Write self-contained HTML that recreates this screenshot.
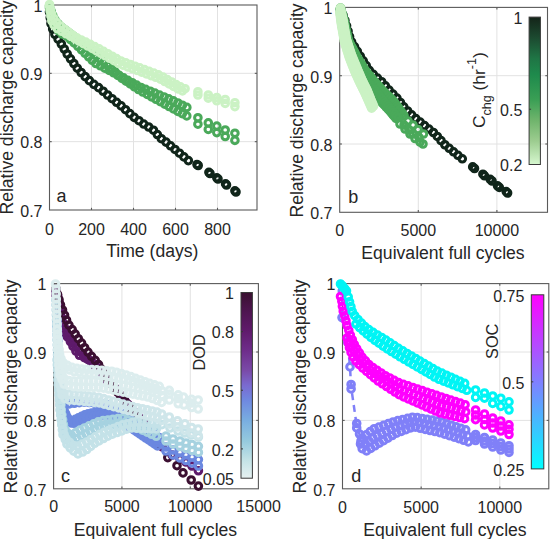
<!DOCTYPE html>
<html><head><meta charset="utf-8"><style>
html,body{margin:0;padding:0;background:#fff;}
svg{display:block;}
text{font-family:"Liberation Sans", sans-serif;}
</style></head><body>
<svg width="550" height="539" viewBox="0 0 550 539">
<rect width="550" height="539" fill="#fff"/>
<g stroke="#e2e2e2" stroke-width="1"><line x1="91.5" y1="5" x2="91.5" y2="210"/><line x1="133.5" y1="5" x2="133.5" y2="210"/><line x1="175.5" y1="5" x2="175.5" y2="210"/><line x1="217.5" y1="5" x2="217.5" y2="210"/><line x1="49.5" y1="73.33" x2="257" y2="73.33"/><line x1="49.5" y1="141.67" x2="257" y2="141.67"/></g>
<g stroke="#5a5a5a" stroke-width="1.1" fill="none"><rect x="49.5" y="5" width="207.5" height="205"/><line x1="91.5" y1="210" x2="91.5" y2="207.8"/><line x1="91.5" y1="5" x2="91.5" y2="7.2"/><line x1="133.5" y1="210" x2="133.5" y2="207.8"/><line x1="133.5" y1="5" x2="133.5" y2="7.2"/><line x1="175.5" y1="210" x2="175.5" y2="207.8"/><line x1="175.5" y1="5" x2="175.5" y2="7.2"/><line x1="217.5" y1="210" x2="217.5" y2="207.8"/><line x1="217.5" y1="5" x2="217.5" y2="7.2"/><line x1="49.5" y1="73.33" x2="51.7" y2="73.33"/><line x1="257" y1="73.33" x2="254.8" y2="73.33"/><line x1="49.5" y1="141.67" x2="51.7" y2="141.67"/><line x1="257" y1="141.67" x2="254.8" y2="141.67"/></g>
<g fill="none" stroke="#10251a" stroke-width="3"><circle cx="49.5" cy="12" r="3.3"/><circle cx="50.22" cy="17.76" r="3.3"/><circle cx="50.94" cy="23.51" r="3.3"/><circle cx="52.68" cy="29.03" r="3.3"/><circle cx="54.9" cy="34.35" r="3.3"/><circle cx="58.12" cy="39.17" r="3.3"/><circle cx="61.33" cy="44" r="3.3"/><circle cx="64.25" cy="49.01" r="3.3"/><circle cx="67.19" cy="54" r="3.3"/><circle cx="70.48" cy="58.78" r="3.3"/><circle cx="73.84" cy="63.51" r="3.3"/><circle cx="77.27" cy="68.19" r="3.3"/><circle cx="81.16" cy="72.49" r="3.3"/><circle cx="85.17" cy="76.67" r="3.3"/><circle cx="89.38" cy="80.65" r="3.3"/><circle cx="93.84" cy="84.37" r="3.3"/><circle cx="98.61" cy="87.65" r="3.3"/><circle cx="103.15" cy="91.26" r="3.3"/><circle cx="107.58" cy="95.01" r="3.3"/><circle cx="112.04" cy="98.72" r="3.3"/><circle cx="116.59" cy="102.3" r="3.3"/><circle cx="121.15" cy="105.89" r="3.3"/><circle cx="125.52" cy="109.7" r="3.3"/><circle cx="129.83" cy="113.58" r="3.3"/><circle cx="134.21" cy="117.37" r="3.3"/><circle cx="138.96" cy="120.71" r="3.3"/><circle cx="143.7" cy="124.04" r="3.3"/><circle cx="148.68" cy="127.01" r="3.3"/><circle cx="153.44" cy="130.23" r="3.3"/><circle cx="157.35" cy="134.52" r="3.3"/><circle cx="161.34" cy="138.72" r="3.3"/><circle cx="166.04" cy="142.12" r="3.3"/><circle cx="170.53" cy="145.78" r="3.3"/><circle cx="174.99" cy="149.48" r="3.3"/><circle cx="179.46" cy="153.19" r="3.3"/><circle cx="183.91" cy="156.9" r="3.3"/><circle cx="188.36" cy="160.62" r="3.3"/><circle cx="197" cy="164.5" r="3.3"/><circle cx="208.9" cy="172.3" r="3.3"/><circle cx="216.8" cy="177.8" r="3.3"/><circle cx="225.6" cy="183.9" r="3.3"/><circle cx="234.9" cy="190.8" r="3.3"/><circle cx="198.2" cy="165.5" r="3.3"/><circle cx="210" cy="173.5" r="3.3"/><circle cx="218" cy="179" r="3.3"/><circle cx="226.5" cy="185" r="3.3"/><circle cx="236" cy="192" r="3.3"/></g>
<g fill="none" stroke="#4aa95a" stroke-width="3"><circle cx="49.5" cy="6" r="3.3"/><circle cx="50.99" cy="10.77" r="3.3"/><circle cx="52.72" cy="15.45" r="3.3"/><circle cx="54.96" cy="19.92" r="3.3"/><circle cx="58.14" cy="23.77" r="3.3"/><circle cx="61.66" cy="27.28" r="3.3"/><circle cx="65.63" cy="30.33" r="3.3"/><circle cx="69.61" cy="33.36" r="3.3"/><circle cx="73.59" cy="36.38" r="3.3"/><circle cx="77.57" cy="39.41" r="3.3"/><circle cx="81.55" cy="42.43" r="3.3"/><circle cx="85.31" cy="45.72" r="3.3"/><circle cx="89.02" cy="49.07" r="3.3"/><circle cx="92.73" cy="52.43" r="3.3"/><circle cx="96.44" cy="55.78" r="3.3"/><circle cx="100.15" cy="59.13" r="3.3"/><circle cx="103.96" cy="62.37" r="3.3"/><circle cx="107.77" cy="65.61" r="3.3"/><circle cx="111.58" cy="68.84" r="3.3"/><circle cx="115.39" cy="72.08" r="3.3"/><circle cx="119.2" cy="75.32" r="3.3"/><circle cx="123.46" cy="77.9" r="3.3"/><circle cx="127.84" cy="80.31" r="3.3"/><circle cx="132.22" cy="82.72" r="3.3"/><circle cx="136.6" cy="85.13" r="3.3"/><circle cx="141.04" cy="87.43" r="3.3"/><circle cx="145.66" cy="89.34" r="3.3"/><circle cx="150.28" cy="91.26" r="3.3"/><circle cx="154.9" cy="93.17" r="3.3"/><circle cx="159.52" cy="95.09" r="3.3"/><circle cx="164.14" cy="97" r="3.3"/><circle cx="168.76" cy="98.91" r="3.3"/><circle cx="173.37" cy="100.83" r="3.3"/><circle cx="177.9" cy="102.95" r="3.3"/><circle cx="182.37" cy="105.19" r="3.3"/><circle cx="186.84" cy="107.42" r="3.3"/><circle cx="197.9" cy="117.7" r="3.3"/><circle cx="208.3" cy="122.9" r="3.3"/><circle cx="216.8" cy="126.1" r="3.3"/><circle cx="225.2" cy="130" r="3.3"/><circle cx="234.9" cy="133.2" r="3.3"/><circle cx="49.5" cy="8" r="3.3"/><circle cx="50.52" cy="12.89" r="3.3"/><circle cx="51.54" cy="17.79" r="3.3"/><circle cx="53.39" cy="22.36" r="3.3"/><circle cx="55.93" cy="26.67" r="3.3"/><circle cx="58.59" cy="30.9" r="3.3"/><circle cx="62.24" cy="34.04" r="3.3"/><circle cx="66.73" cy="36.21" r="3.3"/><circle cx="70.43" cy="39.57" r="3.3"/><circle cx="74.13" cy="42.94" r="3.3"/><circle cx="77.83" cy="46.3" r="3.3"/><circle cx="81.43" cy="49.77" r="3.3"/><circle cx="85.01" cy="53.26" r="3.3"/><circle cx="88.59" cy="56.75" r="3.3"/><circle cx="92.17" cy="60.24" r="3.3"/><circle cx="95.93" cy="63.49" r="3.3"/><circle cx="100.36" cy="65.81" r="3.3"/><circle cx="104.78" cy="68.14" r="3.3"/><circle cx="109.21" cy="70.46" r="3.3"/><circle cx="113.64" cy="72.78" r="3.3"/><circle cx="117.83" cy="75.48" r="3.3"/><circle cx="121.93" cy="78.35" r="3.3"/><circle cx="126.04" cy="81.19" r="3.3"/><circle cx="130.2" cy="83.97" r="3.3"/><circle cx="134.36" cy="86.74" r="3.3"/><circle cx="138.52" cy="89.52" r="3.3"/><circle cx="142.83" cy="92.05" r="3.3"/><circle cx="147.21" cy="94.46" r="3.3"/><circle cx="151.59" cy="96.87" r="3.3"/><circle cx="155.97" cy="99.28" r="3.3"/><circle cx="160.35" cy="101.69" r="3.3"/><circle cx="164.73" cy="104.1" r="3.3"/><circle cx="169.11" cy="106.51" r="3.3"/><circle cx="173.49" cy="108.92" r="3.3"/><circle cx="177.87" cy="111.33" r="3.3"/><circle cx="182.3" cy="113.65" r="3.3"/><circle cx="186.77" cy="115.89" r="3.3"/><circle cx="197.9" cy="124.2" r="3.3"/><circle cx="208.3" cy="129.4" r="3.3"/><circle cx="216.8" cy="132.6" r="3.3"/><circle cx="225.2" cy="136.5" r="3.3"/><circle cx="234.9" cy="140.4" r="3.3"/></g>
<g fill="none" stroke="#cbf2c4" stroke-width="3"><circle cx="49.5" cy="4.5" r="3.3"/><circle cx="50.39" cy="9.42" r="3.3"/><circle cx="51.77" cy="14.22" r="3.3"/><circle cx="53.87" cy="18.75" r="3.3"/><circle cx="56.83" cy="22.77" r="3.3"/><circle cx="60.51" cy="26.16" r="3.3"/><circle cx="64.44" cy="29.23" r="3.3"/><circle cx="68.51" cy="32.13" r="3.3"/><circle cx="72.59" cy="35.02" r="3.3"/><circle cx="76.76" cy="37.76" r="3.3"/><circle cx="81.26" cy="39.93" r="3.3"/><circle cx="85.77" cy="42.11" r="3.3"/><circle cx="90.25" cy="44.32" r="3.3"/><circle cx="94.72" cy="46.56" r="3.3"/><circle cx="99.16" cy="48.85" r="3.3"/><circle cx="103.52" cy="51.31" r="3.3"/><circle cx="107.87" cy="53.76" r="3.3"/><circle cx="112.23" cy="56.22" r="3.3"/><circle cx="116.58" cy="58.67" r="3.3"/><circle cx="121.01" cy="60.97" r="3.3"/><circle cx="125.7" cy="62.71" r="3.3"/><circle cx="130.39" cy="64.44" r="3.3"/><circle cx="135.08" cy="66.18" r="3.3"/><circle cx="139.77" cy="67.91" r="3.3"/><circle cx="144.46" cy="69.65" r="3.3"/><circle cx="149.15" cy="71.38" r="3.3"/><circle cx="153.84" cy="73.12" r="3.3"/><circle cx="158.53" cy="74.85" r="3.3"/><circle cx="162.99" cy="77.09" r="3.3"/><circle cx="167.34" cy="79.55" r="3.3"/><circle cx="171.69" cy="82.01" r="3.3"/><circle cx="176.04" cy="84.47" r="3.3"/><circle cx="180.42" cy="86.87" r="3.3"/><circle cx="185.07" cy="88.73" r="3.3"/><circle cx="197.9" cy="91.7" r="3.3"/><circle cx="208.3" cy="95" r="3.3"/><circle cx="216.8" cy="97.5" r="3.3"/><circle cx="225.2" cy="99.5" r="3.3"/><circle cx="234.9" cy="102.7" r="3.3"/><circle cx="49.5" cy="6" r="3.3"/><circle cx="50.12" cy="10.96" r="3.3"/><circle cx="50.86" cy="15.9" r="3.3"/><circle cx="51.78" cy="20.82" r="3.3"/><circle cx="54.11" cy="25.16" r="3.3"/><circle cx="57.38" cy="28.79" r="3.3"/><circle cx="61.72" cy="31.27" r="3.3"/><circle cx="66.06" cy="33.75" r="3.3"/><circle cx="70.4" cy="36.23" r="3.3"/><circle cx="74.74" cy="38.71" r="3.3"/><circle cx="79.08" cy="41.19" r="3.3"/><circle cx="83.45" cy="43.63" r="3.3"/><circle cx="87.82" cy="46.06" r="3.3"/><circle cx="92.19" cy="48.48" r="3.3"/><circle cx="96.57" cy="50.91" r="3.3"/><circle cx="100.93" cy="53.35" r="3.3"/><circle cx="105.28" cy="55.81" r="3.3"/><circle cx="109.64" cy="58.26" r="3.3"/><circle cx="114" cy="60.72" r="3.3"/><circle cx="118.35" cy="63.17" r="3.3"/><circle cx="122.91" cy="65.18" r="3.3"/><circle cx="127.6" cy="66.91" r="3.3"/><circle cx="132.29" cy="68.65" r="3.3"/><circle cx="136.98" cy="70.38" r="3.3"/><circle cx="141.67" cy="72.12" r="3.3"/><circle cx="146.36" cy="73.85" r="3.3"/><circle cx="151.05" cy="75.59" r="3.3"/><circle cx="155.74" cy="77.32" r="3.3"/><circle cx="160.4" cy="79.12" r="3.3"/><circle cx="164.77" cy="81.55" r="3.3"/><circle cx="169.14" cy="83.97" r="3.3"/><circle cx="173.51" cy="86.4" r="3.3"/><circle cx="177.89" cy="88.83" r="3.3"/><circle cx="182.43" cy="90.87" r="3.3"/><circle cx="197.9" cy="95" r="3.3"/><circle cx="208.3" cy="98.2" r="3.3"/><circle cx="216.8" cy="100.8" r="3.3"/><circle cx="225.2" cy="103.4" r="3.3"/><circle cx="234.9" cy="106.6" r="3.3"/></g>
<g fill="#262626" font-family='"Liberation Sans", sans-serif'>
<text x="49.5" y="234.9" font-size="16" text-anchor="middle">0</text>
<text x="91.5" y="234.9" font-size="16" text-anchor="middle">200</text>
<text x="133.5" y="234.9" font-size="16" text-anchor="middle">400</text>
<text x="175.5" y="234.9" font-size="16" text-anchor="middle">600</text>
<text x="217.5" y="234.9" font-size="16" text-anchor="middle">800</text>
<text x="42.5" y="11.8" font-size="16" text-anchor="end">1</text>
<text x="42.5" y="80.13" font-size="16" text-anchor="end">0.9</text>
<text x="42.5" y="148.47" font-size="16" text-anchor="end">0.8</text>
<text x="42.5" y="216.8" font-size="16" text-anchor="end">0.7</text>
<text x="152.3" y="256.5" font-size="17.6" text-anchor="middle">Time (days)</text>
<text transform="translate(12.8 107.5) rotate(-90)" font-size="17.6" text-anchor="middle">Relative discharge capacity</text>
<text x="61.5" y="202.3" font-size="18" text-anchor="middle">a</text>
</g>
<g stroke="#e2e2e2" stroke-width="1"><line x1="418.3" y1="7.4" x2="418.3" y2="212.3"/><line x1="496.9" y1="7.4" x2="496.9" y2="212.3"/><line x1="339.7" y1="75.7" x2="547.5" y2="75.7"/><line x1="339.7" y1="144" x2="547.5" y2="144"/></g>
<g stroke="#5a5a5a" stroke-width="1.1" fill="none"><rect x="339.7" y="7.4" width="207.8" height="204.9"/><line x1="418.3" y1="212.3" x2="418.3" y2="210.1"/><line x1="418.3" y1="7.4" x2="418.3" y2="9.6"/><line x1="496.9" y1="212.3" x2="496.9" y2="210.1"/><line x1="496.9" y1="7.4" x2="496.9" y2="9.6"/><line x1="339.7" y1="75.7" x2="341.9" y2="75.7"/><line x1="547.5" y1="75.7" x2="545.3" y2="75.7"/><line x1="339.7" y1="144" x2="341.9" y2="144"/><line x1="547.5" y1="144" x2="545.3" y2="144"/></g>
<g fill="none" stroke="#10251a" stroke-width="3"><circle cx="341" cy="10" r="3.3"/><circle cx="342.97" cy="15.24" r="3.3"/><circle cx="344.93" cy="20.49" r="3.3"/><circle cx="346.57" cy="25.84" r="3.3"/><circle cx="348.07" cy="31.23" r="3.3"/><circle cx="349.56" cy="36.63" r="3.3"/><circle cx="351.58" cy="41.8" r="3.3"/><circle cx="354.46" cy="46.6" r="3.3"/><circle cx="357.34" cy="51.41" r="3.3"/><circle cx="360.25" cy="56.19" r="3.3"/><circle cx="363.25" cy="60.92" r="3.3"/><circle cx="366.25" cy="65.65" r="3.3"/><circle cx="369.32" cy="70.32" r="3.3"/><circle cx="373.28" cy="74.28" r="3.3"/><circle cx="377.43" cy="78.03" r="3.3"/><circle cx="381.64" cy="81.72" r="3.3"/><circle cx="385.35" cy="85.91" r="3.3"/><circle cx="389.06" cy="90.1" r="3.3"/><circle cx="392.97" cy="94.11" r="3.3"/><circle cx="396.91" cy="98.09" r="3.3"/><circle cx="400.41" cy="102.45" r="3.3"/><circle cx="403.78" cy="106.92" r="3.3"/><circle cx="407.62" cy="110.99" r="3.3"/><circle cx="411.6" cy="114.92" r="3.3"/><circle cx="415.79" cy="118.63" r="3.3"/><circle cx="420.16" cy="122.14" r="3.3"/><circle cx="424.53" cy="125.64" r="3.3"/><circle cx="428.96" cy="129.06" r="3.3"/><circle cx="433.39" cy="132.49" r="3.3"/><circle cx="437.32" cy="136.45" r="3.3"/><circle cx="441.04" cy="140.63" r="3.3"/><circle cx="444.83" cy="144.75" r="3.3"/><circle cx="449.18" cy="148.28" r="3.3"/><circle cx="453.53" cy="151.8" r="3.3"/><circle cx="457.9" cy="155.3" r="3.3"/><circle cx="462.28" cy="158.79" r="3.3"/><circle cx="472.7" cy="166.9" r="3.3"/><circle cx="482.9" cy="174.2" r="3.3"/><circle cx="490.2" cy="179.3" r="3.3"/><circle cx="497.5" cy="185.8" r="3.3"/><circle cx="506.2" cy="191.6" r="3.3"/><circle cx="474.5" cy="168.5" r="3.3"/><circle cx="484.5" cy="175.8" r="3.3"/><circle cx="492" cy="181" r="3.3"/><circle cx="499.3" cy="187.4" r="3.3"/><circle cx="507.6" cy="193" r="3.3"/></g>
<g fill="none" stroke="#4aa95a" stroke-width="3"><circle cx="340.5" cy="8" r="3.3"/><circle cx="341.2" cy="10.4" r="3.3"/><circle cx="341.9" cy="12.8" r="3.3"/><circle cx="342.6" cy="15.2" r="3.3"/><circle cx="343.3" cy="17.6" r="3.3"/><circle cx="344" cy="20" r="3.3"/><circle cx="344.54" cy="22.44" r="3.3"/><circle cx="345.07" cy="24.88" r="3.3"/><circle cx="345.61" cy="27.33" r="3.3"/><circle cx="346.14" cy="29.77" r="3.3"/><circle cx="346.68" cy="32.21" r="3.3"/><circle cx="347.22" cy="34.65" r="3.3"/><circle cx="347.75" cy="37.09" r="3.3"/><circle cx="348.29" cy="39.53" r="3.3"/><circle cx="349.19" cy="41.84" r="3.3"/><circle cx="350.34" cy="44.07" r="3.3"/><circle cx="351.49" cy="46.29" r="3.3"/><circle cx="352.63" cy="48.51" r="3.3"/><circle cx="353.78" cy="50.73" r="3.3"/><circle cx="354.93" cy="52.95" r="3.3"/><circle cx="356.07" cy="55.17" r="3.3"/><circle cx="357.31" cy="57.34" r="3.3"/><circle cx="358.61" cy="59.48" r="3.3"/><circle cx="359.91" cy="61.62" r="3.3"/><circle cx="361.21" cy="63.75" r="3.3"/><circle cx="362.5" cy="65.89" r="3.3"/><circle cx="363.8" cy="68.03" r="3.3"/><circle cx="365.12" cy="70.15" r="3.3"/><circle cx="366.7" cy="72.08" r="3.3"/><circle cx="368.29" cy="74.02" r="3.3"/><circle cx="369.87" cy="75.95" r="3.3"/><circle cx="371.45" cy="77.89" r="3.3"/><circle cx="373.04" cy="79.82" r="3.3"/><circle cx="374.66" cy="81.72" r="3.3"/><circle cx="376.34" cy="83.57" r="3.3"/><circle cx="378.02" cy="85.42" r="3.3"/><circle cx="379.7" cy="87.27" r="3.3"/><circle cx="381.38" cy="89.12" r="3.3"/><circle cx="383.07" cy="90.97" r="3.3"/><circle cx="384.81" cy="92.76" r="3.3"/><circle cx="386.62" cy="94.48" r="3.3"/><circle cx="388.44" cy="96.2" r="3.3"/><circle cx="390.25" cy="97.92" r="3.3"/><circle cx="392.07" cy="99.64" r="3.3"/><circle cx="393.81" cy="101.43" r="3.3"/><circle cx="395.27" cy="103.45" r="3.3"/><circle cx="396.74" cy="105.48" r="3.3"/><circle cx="398.2" cy="107.51" r="3.3"/><circle cx="399.66" cy="109.53" r="3.3"/><circle cx="401.12" cy="111.57" r="3.3"/><circle cx="402.57" cy="113.6" r="3.3"/><circle cx="404.02" cy="115.63" r="3.3"/><circle cx="408" cy="121" r="3.3"/><circle cx="413" cy="125" r="3.3"/><circle cx="418" cy="129.5" r="3.3"/><circle cx="423.5" cy="134" r="3.3"/><circle cx="340" cy="10" r="3.3"/><circle cx="340.33" cy="12.48" r="3.3"/><circle cx="340.66" cy="14.96" r="3.3"/><circle cx="340.99" cy="17.43" r="3.3"/><circle cx="341.32" cy="19.91" r="3.3"/><circle cx="341.65" cy="22.39" r="3.3"/><circle cx="341.98" cy="24.87" r="3.3"/><circle cx="342.48" cy="27.32" r="3.3"/><circle cx="342.98" cy="29.77" r="3.3"/><circle cx="343.49" cy="32.22" r="3.3"/><circle cx="343.99" cy="34.66" r="3.3"/><circle cx="344.49" cy="37.11" r="3.3"/><circle cx="345" cy="39.56" r="3.3"/><circle cx="345.5" cy="42.01" r="3.3"/><circle cx="346.41" cy="44.34" r="3.3"/><circle cx="347.32" cy="46.67" r="3.3"/><circle cx="348.22" cy="49" r="3.3"/><circle cx="349.13" cy="51.33" r="3.3"/><circle cx="350.03" cy="53.66" r="3.3"/><circle cx="350.94" cy="55.99" r="3.3"/><circle cx="351.85" cy="58.32" r="3.3"/><circle cx="352.81" cy="60.62" r="3.3"/><circle cx="353.93" cy="62.86" r="3.3"/><circle cx="355.05" cy="65.1" r="3.3"/><circle cx="356.17" cy="67.33" r="3.3"/><circle cx="357.28" cy="69.57" r="3.3"/><circle cx="358.4" cy="71.8" r="3.3"/><circle cx="359.52" cy="74.04" r="3.3"/><circle cx="360.81" cy="76.17" r="3.3"/><circle cx="362.24" cy="78.23" r="3.3"/><circle cx="363.66" cy="80.28" r="3.3"/><circle cx="365.08" cy="82.34" r="3.3"/><circle cx="366.5" cy="84.4" r="3.3"/><circle cx="367.93" cy="86.45" r="3.3"/><circle cx="369.41" cy="88.46" r="3.3"/><circle cx="371.05" cy="90.34" r="3.3"/><circle cx="372.7" cy="92.23" r="3.3"/><circle cx="374.34" cy="94.11" r="3.3"/><circle cx="375.99" cy="95.99" r="3.3"/><circle cx="377.64" cy="97.87" r="3.3"/><circle cx="379.28" cy="99.75" r="3.3"/><circle cx="380.99" cy="101.57" r="3.3"/><circle cx="382.72" cy="103.39" r="3.3"/><circle cx="384.44" cy="105.2" r="3.3"/><circle cx="386.16" cy="107.01" r="3.3"/><circle cx="387.88" cy="108.82" r="3.3"/><circle cx="389.56" cy="110.67" r="3.3"/><circle cx="391.16" cy="112.59" r="3.3"/><circle cx="392.76" cy="114.52" r="3.3"/><circle cx="394.36" cy="116.44" r="3.3"/><circle cx="395.96" cy="118.36" r="3.3"/><circle cx="400" cy="124" r="3.3"/><circle cx="405" cy="129" r="3.3"/><circle cx="410" cy="134" r="3.3"/><circle cx="415" cy="138.5" r="3.3"/><circle cx="420" cy="142" r="3.3"/><circle cx="423" cy="144" r="3.3"/><circle cx="404" cy="125" r="3.3"/><circle cx="409" cy="130" r="3.3"/><circle cx="413" cy="134" r="3.3"/><circle cx="419" cy="137.5" r="3.3"/><circle cx="341" cy="12" r="3.3"/><circle cx="341.41" cy="14.47" r="3.3"/><circle cx="341.82" cy="16.93" r="3.3"/><circle cx="342.23" cy="19.4" r="3.3"/><circle cx="342.64" cy="21.86" r="3.3"/><circle cx="343.05" cy="24.33" r="3.3"/><circle cx="343.47" cy="26.8" r="3.3"/><circle cx="343.88" cy="29.26" r="3.3"/><circle cx="344.47" cy="31.69" r="3.3"/><circle cx="345.15" cy="34.09" r="3.3"/><circle cx="345.83" cy="36.5" r="3.3"/><circle cx="346.5" cy="38.91" r="3.3"/><circle cx="347.18" cy="41.31" r="3.3"/><circle cx="347.86" cy="43.72" r="3.3"/><circle cx="348.56" cy="46.12" r="3.3"/><circle cx="349.62" cy="48.38" r="3.3"/><circle cx="350.68" cy="50.65" r="3.3"/><circle cx="351.74" cy="52.91" r="3.3"/><circle cx="352.8" cy="55.17" r="3.3"/><circle cx="353.86" cy="57.44" r="3.3"/><circle cx="354.92" cy="59.7" r="3.3"/><circle cx="355.98" cy="61.96" r="3.3"/><circle cx="357.22" cy="64.14" r="3.3"/><circle cx="358.46" cy="66.31" r="3.3"/><circle cx="359.7" cy="68.48" r="3.3"/><circle cx="360.94" cy="70.65" r="3.3"/><circle cx="362.18" cy="72.82" r="3.3"/><circle cx="363.42" cy="74.99" r="3.3"/><circle cx="364.8" cy="77.07" r="3.3"/><circle cx="366.3" cy="79.07" r="3.3"/><circle cx="367.8" cy="81.07" r="3.3"/><circle cx="369.3" cy="83.07" r="3.3"/><circle cx="370.8" cy="85.07" r="3.3"/><circle cx="372.3" cy="87.07" r="3.3"/><circle cx="373.86" cy="89.03" r="3.3"/><circle cx="375.46" cy="90.95" r="3.3"/><circle cx="377.06" cy="92.87" r="3.3"/><circle cx="378.66" cy="94.79" r="3.3"/><circle cx="380.26" cy="96.71" r="3.3"/><circle cx="381.86" cy="98.63" r="3.3"/><circle cx="383.46" cy="100.55" r="3.3"/><circle cx="385.08" cy="102.45" r="3.3"/><circle cx="386.7" cy="104.35" r="3.3"/><circle cx="388.32" cy="106.26" r="3.3"/><circle cx="389.94" cy="108.16" r="3.3"/><circle cx="391.56" cy="110.07" r="3.3"/><circle cx="393.21" cy="111.95" r="3.3"/><circle cx="394.85" cy="113.83" r="3.3"/><circle cx="396.5" cy="115.71" r="3.3"/><circle cx="398.14" cy="117.59" r="3.3"/></g>
<g fill="none" stroke="#cbf2c4" stroke-width="3"><circle cx="340.5" cy="8" r="3.3"/><circle cx="340.91" cy="9.96" r="3.3"/><circle cx="341.32" cy="11.92" r="3.3"/><circle cx="341.72" cy="13.87" r="3.3"/><circle cx="342.13" cy="15.83" r="3.3"/><circle cx="342.54" cy="17.79" r="3.3"/><circle cx="342.95" cy="19.75" r="3.3"/><circle cx="343.3" cy="21.72" r="3.3"/><circle cx="343.65" cy="23.68" r="3.3"/><circle cx="344" cy="25.65" r="3.3"/><circle cx="344.35" cy="27.62" r="3.3"/><circle cx="344.7" cy="29.59" r="3.3"/><circle cx="345.05" cy="31.56" r="3.3"/><circle cx="345.4" cy="33.53" r="3.3"/><circle cx="345.75" cy="35.5" r="3.3"/><circle cx="346.1" cy="37.47" r="3.3"/><circle cx="346.45" cy="39.44" r="3.3"/><circle cx="347.04" cy="41.35" r="3.3"/><circle cx="347.66" cy="43.25" r="3.3"/><circle cx="348.28" cy="45.15" r="3.3"/><circle cx="348.9" cy="47.05" r="3.3"/><circle cx="349.52" cy="48.95" r="3.3"/><circle cx="350.14" cy="50.85" r="3.3"/><circle cx="350.77" cy="52.75" r="3.3"/><circle cx="351.39" cy="54.66" r="3.3"/><circle cx="352.13" cy="56.51" r="3.3"/><circle cx="352.9" cy="58.36" r="3.3"/><circle cx="353.67" cy="60.2" r="3.3"/><circle cx="354.44" cy="62.05" r="3.3"/><circle cx="355.21" cy="63.9" r="3.3"/><circle cx="355.98" cy="65.74" r="3.3"/><circle cx="356.75" cy="67.59" r="3.3"/><circle cx="357.51" cy="69.43" r="3.3"/><circle cx="358.3" cy="71.28" r="3.3"/><circle cx="359.08" cy="73.12" r="3.3"/><circle cx="359.86" cy="74.96" r="3.3"/><circle cx="360.64" cy="76.8" r="3.3"/><circle cx="361.42" cy="78.64" r="3.3"/><circle cx="362.23" cy="80.47" r="3.3"/><circle cx="363.13" cy="82.26" r="3.3"/><circle cx="364.02" cy="84.04" r="3.3"/><circle cx="364.92" cy="85.83" r="3.3"/><circle cx="365.81" cy="87.62" r="3.3"/><circle cx="366.71" cy="89.41" r="3.3"/><circle cx="367.5" cy="91.25" r="3.3"/><circle cx="368.24" cy="93.1" r="3.3"/><circle cx="368.98" cy="94.96" r="3.3"/><circle cx="369.73" cy="96.82" r="3.3"/><circle cx="370.47" cy="98.67" r="3.3"/><circle cx="371.23" cy="100.53" r="3.3"/><circle cx="372.01" cy="102.36" r="3.3"/><circle cx="372.8" cy="104.2" r="3.3"/><circle cx="373.59" cy="106.04" r="3.3"/><circle cx="339.8" cy="12" r="3.3"/><circle cx="340.06" cy="13.98" r="3.3"/><circle cx="340.32" cy="15.97" r="3.3"/><circle cx="340.58" cy="17.95" r="3.3"/><circle cx="340.84" cy="19.93" r="3.3"/><circle cx="341.1" cy="21.92" r="3.3"/><circle cx="341.36" cy="23.9" r="3.3"/><circle cx="341.65" cy="25.88" r="3.3"/><circle cx="342" cy="27.85" r="3.3"/><circle cx="342.35" cy="29.81" r="3.3"/><circle cx="342.7" cy="31.78" r="3.3"/><circle cx="343.04" cy="33.75" r="3.3"/><circle cx="343.39" cy="35.72" r="3.3"/><circle cx="343.74" cy="37.69" r="3.3"/><circle cx="344.09" cy="39.66" r="3.3"/><circle cx="344.44" cy="41.63" r="3.3"/><circle cx="344.99" cy="43.55" r="3.3"/><circle cx="345.58" cy="45.46" r="3.3"/><circle cx="346.18" cy="47.37" r="3.3"/><circle cx="346.77" cy="49.28" r="3.3"/><circle cx="347.37" cy="51.19" r="3.3"/><circle cx="347.97" cy="53.1" r="3.3"/><circle cx="348.56" cy="55.01" r="3.3"/><circle cx="349.16" cy="56.92" r="3.3"/><circle cx="349.82" cy="58.8" r="3.3"/><circle cx="350.55" cy="60.67" r="3.3"/><circle cx="351.28" cy="62.53" r="3.3"/><circle cx="352.01" cy="64.39" r="3.3"/><circle cx="352.74" cy="66.25" r="3.3"/><circle cx="353.47" cy="68.11" r="3.3"/><circle cx="354.2" cy="69.97" r="3.3"/><circle cx="354.93" cy="71.83" r="3.3"/><circle cx="355.75" cy="73.66" r="3.3"/><circle cx="356.58" cy="75.48" r="3.3"/><circle cx="357.41" cy="77.3" r="3.3"/><circle cx="358.24" cy="79.12" r="3.3"/><circle cx="359.06" cy="80.94" r="3.3"/><circle cx="359.89" cy="82.76" r="3.3"/><circle cx="360.78" cy="84.56" r="3.3"/><circle cx="361.67" cy="86.34" r="3.3"/><circle cx="362.57" cy="88.13" r="3.3"/><circle cx="363.46" cy="89.92" r="3.3"/><circle cx="364.36" cy="91.71" r="3.3"/><circle cx="365.19" cy="93.53" r="3.3"/><circle cx="366.01" cy="95.35" r="3.3"/><circle cx="366.83" cy="97.18" r="3.3"/><circle cx="367.65" cy="99" r="3.3"/><circle cx="368.47" cy="100.82" r="3.3"/><circle cx="369.28" cy="102.65" r="3.3"/><circle cx="370.07" cy="104.49" r="3.3"/><circle cx="370.86" cy="106.33" r="3.3"/><circle cx="371.64" cy="108.17" r="3.3"/></g>
<defs><linearGradient id="gA" x1="0" y1="1" x2="0" y2="0"><stop offset="0" stop-color="#d6f7cf"/><stop offset="0.16" stop-color="#9ccc8f"/><stop offset="0.3" stop-color="#6fb46c"/><stop offset="0.44" stop-color="#3a9f55"/><stop offset="0.61" stop-color="#1e8a4c"/><stop offset="0.72" stop-color="#1f7545"/><stop offset="0.86" stop-color="#1c4a30"/><stop offset="1" stop-color="#142419"/></linearGradient></defs>
<rect x="529.1" y="17.1" width="11.3" height="147.4" fill="url(#gA)" stroke="#3a3a3a" stroke-width="1"/><g stroke="#3a3a3a" stroke-width="1"><line x1="529.1" y1="109.22" x2="531.1" y2="109.22"/></g>
<g fill="#262626" font-family='"Liberation Sans", sans-serif'>
<text x="339.7" y="235.6" font-size="16" text-anchor="middle">0</text>
<text x="418.3" y="235.6" font-size="16" text-anchor="middle">5000</text>
<text x="496.9" y="235.6" font-size="16" text-anchor="middle">10000</text>
<text x="332.5" y="14.2" font-size="16" text-anchor="end">1</text>
<text x="332.5" y="82.5" font-size="16" text-anchor="end">0.9</text>
<text x="332.5" y="150.8" font-size="16" text-anchor="end">0.8</text>
<text x="332.5" y="219.1" font-size="16" text-anchor="end">0.7</text>
<text x="443" y="259" font-size="17.6" text-anchor="middle">Equivalent full cycles</text>
<text transform="translate(302.8 110.5) rotate(-90)" font-size="17.6" text-anchor="middle">Relative discharge capacity</text>
<text x="353.2" y="203" font-size="18" text-anchor="middle">b</text>
<text x="522.3" y="23.9" font-size="16" text-anchor="end">1</text>
<text x="522.3" y="116.02" font-size="16" text-anchor="end">0.5</text>
<text x="522.3" y="171.3" font-size="16" text-anchor="end">0.2</text>
<text transform="translate(485.3 128) rotate(-90)" font-size="17.4">C<tspan font-size="12.5" dy="5.7">chg</tspan><tspan dy="-5.7"> (hr</tspan><tspan font-size="12.5" dy="-9.3">-1</tspan><tspan dy="9.3">)</tspan></text>
</g>
<g stroke="#e2e2e2" stroke-width="1"><line x1="121.93" y1="283.6" x2="121.93" y2="488.8"/><line x1="190.27" y1="283.6" x2="190.27" y2="488.8"/><line x1="53.6" y1="352" x2="258.4" y2="352"/><line x1="53.6" y1="420.4" x2="258.4" y2="420.4"/></g>
<g stroke="#5a5a5a" stroke-width="1.1" fill="none"><rect x="53.6" y="283.6" width="204.8" height="205.2"/><line x1="121.93" y1="488.8" x2="121.93" y2="486.6"/><line x1="121.93" y1="283.6" x2="121.93" y2="285.8"/><line x1="190.27" y1="488.8" x2="190.27" y2="486.6"/><line x1="190.27" y1="283.6" x2="190.27" y2="285.8"/><line x1="53.6" y1="352" x2="55.8" y2="352"/><line x1="258.4" y1="352" x2="256.2" y2="352"/><line x1="53.6" y1="420.4" x2="55.8" y2="420.4"/><line x1="258.4" y1="420.4" x2="256.2" y2="420.4"/></g>
<g fill="none" stroke="#5e1a6b" stroke-width="3"><circle cx="56" cy="291" r="3.3"/><circle cx="57.74" cy="296.22" r="3.3"/><circle cx="58.86" cy="301.6" r="3.3"/><circle cx="59.8" cy="307.01" r="3.3"/><circle cx="60.62" cy="312.45" r="3.3"/><circle cx="61.71" cy="317.84" r="3.3"/><circle cx="63.04" cy="323.17" r="3.3"/><circle cx="64.95" cy="328.31" r="3.3"/><circle cx="67.19" cy="333.33" r="3.3"/><circle cx="69.88" cy="338.13" r="3.3"/><circle cx="72.78" cy="342.79" r="3.3"/><circle cx="75.98" cy="347.27" r="3.3"/><circle cx="79.61" cy="351.39" r="3.3"/><circle cx="83.45" cy="355.33" r="3.3"/><circle cx="87.5" cy="359.04" r="3.3"/><circle cx="91.56" cy="362.76" r="3.3"/><circle cx="95.38" cy="366.69" r="3.3"/><circle cx="98.87" cy="370.95" r="3.3"/><circle cx="102.35" cy="375.2" r="3.3"/><circle cx="106.06" cy="379.26" r="3.3"/><circle cx="109.82" cy="383.28" r="3.3"/><circle cx="113.58" cy="387.29" r="3.3"/><circle cx="117.34" cy="391.3" r="3.3"/><circle cx="120.84" cy="395.55" r="3.3"/><circle cx="124.27" cy="399.84" r="3.3"/><circle cx="127.71" cy="404.14" r="3.3"/><circle cx="131.21" cy="408.37" r="3.3"/><circle cx="134.85" cy="412.5" r="3.3"/><circle cx="138.49" cy="416.62" r="3.3"/><circle cx="142.13" cy="420.75" r="3.3"/><circle cx="145.67" cy="424.95" r="3.3"/><circle cx="148.84" cy="429.44" r="3.3"/><circle cx="152.01" cy="433.93" r="3.3"/><circle cx="155.18" cy="438.43" r="3.3"/><circle cx="158.56" cy="442.76" r="3.3"/><circle cx="162.22" cy="446.87" r="3.3"/><circle cx="172" cy="455" r="3.3"/><circle cx="180" cy="459" r="3.3"/><circle cx="186" cy="462" r="3.3"/><circle cx="192" cy="466" r="3.3"/><circle cx="198.4" cy="470.8" r="3.3"/></g>
<g fill="none" stroke="#5e1a6b" stroke-width="3"><circle cx="56" cy="295" r="3.3"/><circle cx="57.85" cy="300.18" r="3.3"/><circle cx="59.04" cy="305.53" r="3.3"/><circle cx="59.88" cy="310.96" r="3.3"/><circle cx="60.73" cy="316.39" r="3.3"/><circle cx="61.64" cy="321.82" r="3.3"/><circle cx="62.54" cy="327.25" r="3.3"/><circle cx="64.45" cy="332.28" r="3.3"/><circle cx="67.41" cy="336.92" r="3.3"/><circle cx="70.35" cy="341.57" r="3.3"/><circle cx="72.99" cy="346.39" r="3.3"/><circle cx="75.91" cy="351.03" r="3.3"/><circle cx="79.45" cy="355.24" r="3.3"/><circle cx="84.37" cy="357.69" r="3.3"/><circle cx="89.29" cy="360.14" r="3.3"/><circle cx="93.48" cy="363.62" r="3.3"/><circle cx="97.41" cy="367.47" r="3.3"/><circle cx="101.22" cy="371.43" r="3.3"/><circle cx="104.8" cy="375.6" r="3.3"/><circle cx="108.38" cy="379.78" r="3.3"/><circle cx="111.96" cy="383.95" r="3.3"/><circle cx="115.26" cy="388.35" r="3.3"/><circle cx="118.56" cy="392.75" r="3.3"/><circle cx="121.86" cy="397.15" r="3.3"/><circle cx="125.28" cy="401.46" r="3.3"/><circle cx="128.9" cy="405.6" r="3.3"/><circle cx="132.52" cy="409.74" r="3.3"/><circle cx="136.14" cy="413.88" r="3.3"/><circle cx="139.54" cy="418.2" r="3.3"/><circle cx="142.69" cy="422.7" r="3.3"/><circle cx="145.84" cy="427.21" r="3.3"/><circle cx="149" cy="431.71" r="3.3"/></g>
<g fill="none" stroke="#3b0f31" stroke-width="3"><circle cx="56" cy="289" r="3.3"/><circle cx="57.51" cy="294.29" r="3.3"/><circle cx="59" cy="299.58" r="3.3"/><circle cx="60.47" cy="304.88" r="3.3"/><circle cx="62.5" cy="309.99" r="3.3"/><circle cx="64.54" cy="315.1" r="3.3"/><circle cx="66.54" cy="320.22" r="3.3"/><circle cx="68.94" cy="325.13" r="3.3"/><circle cx="72.18" cy="329.57" r="3.3"/><circle cx="75.2" cy="334.17" r="3.3"/><circle cx="78.32" cy="338.7" r="3.3"/><circle cx="81.58" cy="343.13" r="3.3"/><circle cx="84.61" cy="347.71" r="3.3"/><circle cx="87.96" cy="352.08" r="3.3"/><circle cx="91.48" cy="356.3" r="3.3"/><circle cx="95.22" cy="360.32" r="3.3"/><circle cx="98.57" cy="364.64" r="3.3"/><circle cx="101.4" cy="369.35" r="3.3"/><circle cx="104.24" cy="374.07" r="3.3"/><circle cx="107.26" cy="378.65" r="3.3"/><circle cx="110.6" cy="383.02" r="3.3"/><circle cx="113.94" cy="387.39" r="3.3"/><circle cx="117.28" cy="391.76" r="3.3"/><circle cx="120.69" cy="396.08" r="3.3"/><circle cx="124.16" cy="400.35" r="3.3"/><circle cx="127.62" cy="404.61" r="3.3"/><circle cx="131.09" cy="408.88" r="3.3"/><circle cx="134.49" cy="413.21" r="3.3"/><circle cx="137.87" cy="417.55" r="3.3"/><circle cx="141.25" cy="421.89" r="3.3"/><circle cx="144.62" cy="426.23" r="3.3"/><circle cx="147.97" cy="430.6" r="3.3"/><circle cx="151.28" cy="434.98" r="3.3"/><circle cx="154.6" cy="439.37" r="3.3"/><circle cx="157.92" cy="443.76" r="3.3"/><circle cx="167.8" cy="457.6" r="3.3"/><circle cx="177" cy="465.7" r="3.3"/><circle cx="183" cy="472.9" r="3.3"/><circle cx="191.2" cy="480" r="3.3"/><circle cx="198.4" cy="486.1" r="3.3"/></g>
<g fill="none" stroke="#6b88e0" stroke-width="3"><circle cx="57" cy="320" r="3.3"/><circle cx="57.14" cy="323.5" r="3.3"/><circle cx="57.28" cy="326.99" r="3.3"/><circle cx="57.42" cy="330.49" r="3.3"/><circle cx="57.56" cy="333.99" r="3.3"/><circle cx="57.7" cy="337.49" r="3.3"/><circle cx="57.84" cy="340.98" r="3.3"/><circle cx="57.98" cy="344.48" r="3.3"/><circle cx="58.12" cy="347.98" r="3.3"/><circle cx="58.26" cy="351.47" r="3.3"/><circle cx="58.4" cy="354.97" r="3.3"/><circle cx="58.54" cy="358.47" r="3.3"/><circle cx="58.68" cy="361.97" r="3.3"/><circle cx="58.82" cy="365.46" r="3.3"/><circle cx="58.96" cy="368.96" r="3.3"/><circle cx="59.12" cy="372.46" r="3.3"/><circle cx="59.3" cy="375.95" r="3.3"/><circle cx="59.47" cy="379.45" r="3.3"/><circle cx="59.65" cy="382.94" r="3.3"/><circle cx="59.82" cy="386.44" r="3.3"/><circle cx="60" cy="389.94" r="3.3"/><circle cx="60.67" cy="393.37" r="3.3"/><circle cx="61.36" cy="396.8" r="3.3"/><circle cx="62.05" cy="400.23" r="3.3"/><circle cx="62.73" cy="403.66" r="3.3"/><circle cx="63.42" cy="407.1" r="3.3"/><circle cx="64.22" cy="410.49" r="3.3"/><circle cx="65.64" cy="413.69" r="3.3"/><circle cx="67.06" cy="416.89" r="3.3"/><circle cx="69.08" cy="419.5" r="3.3"/><circle cx="72.25" cy="420.98" r="3.3"/><circle cx="75.36" cy="419.41" r="3.3"/><circle cx="78.47" cy="417.8" r="3.3"/><circle cx="81.63" cy="416.3" r="3.3"/><circle cx="84.84" cy="414.92" r="3.3"/><circle cx="88.13" cy="413.78" r="3.3"/><circle cx="91.57" cy="413.12" r="3.3"/><circle cx="95.01" cy="412.46" r="3.3"/><circle cx="98.45" cy="411.8" r="3.3"/><circle cx="101.91" cy="411.39" r="3.3"/><circle cx="105.41" cy="411.2" r="3.3"/><circle cx="108.9" cy="411.01" r="3.3"/><circle cx="112.2" cy="412.16" r="3.3"/><circle cx="115.49" cy="413.36" r="3.3"/><circle cx="118.78" cy="414.56" r="3.3"/><circle cx="121.72" cy="416.37" r="3.3"/><circle cx="124.45" cy="418.56" r="3.3"/><circle cx="127.18" cy="420.75" r="3.3"/><circle cx="129.92" cy="422.93" r="3.3"/><circle cx="132.65" cy="425.12" r="3.3"/><circle cx="135.41" cy="427.27" r="3.3"/><circle cx="138.32" cy="429.21" r="3.3"/><circle cx="141.23" cy="431.15" r="3.3"/><circle cx="144.14" cy="433.1" r="3.3"/><circle cx="147.06" cy="435.04" r="3.3"/><circle cx="149.97" cy="436.98" r="3.3"/><circle cx="152.88" cy="438.92" r="3.3"/><circle cx="155.79" cy="440.86" r="3.3"/><circle cx="158.7" cy="442.8" r="3.3"/><circle cx="166" cy="447" r="3.3"/><circle cx="173" cy="450" r="3.3"/><circle cx="180" cy="452.5" r="3.3"/><circle cx="186" cy="455" r="3.3"/><circle cx="192" cy="457" r="3.3"/><circle cx="198.4" cy="459.6" r="3.3"/></g>
<g fill="none" stroke="#6b88e0" stroke-width="3"><circle cx="66" cy="418" r="3.3"/><circle cx="68.47" cy="420.47" r="3.3"/><circle cx="70.95" cy="422.95" r="3.3"/><circle cx="73.89" cy="423.29" r="3.3"/><circle cx="77.16" cy="422.06" r="3.3"/><circle cx="80.42" cy="420.79" r="3.3"/><circle cx="83.55" cy="419.22" r="3.3"/><circle cx="86.68" cy="417.66" r="3.3"/><circle cx="90.09" cy="416.91" r="3.3"/><circle cx="93.52" cy="416.25" r="3.3"/><circle cx="96.96" cy="415.58" r="3.3"/><circle cx="100.41" cy="415" r="3.3"/><circle cx="103.91" cy="415" r="3.3"/><circle cx="107.41" cy="415" r="3.3"/><circle cx="110.91" cy="415" r="3.3"/><circle cx="113.98" cy="416.37" r="3.3"/><circle cx="116.86" cy="418.36" r="3.3"/><circle cx="119.73" cy="420.35" r="3.3"/><circle cx="122.61" cy="422.35" r="3.3"/><circle cx="125.49" cy="424.33" r="3.3"/><circle cx="128.41" cy="426.27" r="3.3"/><circle cx="131.32" cy="428.21" r="3.3"/><circle cx="134.23" cy="430.15" r="3.3"/><circle cx="137.14" cy="432.1" r="3.3"/><circle cx="140.06" cy="434.04" r="3.3"/><circle cx="142.94" cy="436.01" r="3.3"/><circle cx="145.83" cy="437.99" r="3.3"/><circle cx="148.72" cy="439.97" r="3.3"/><circle cx="151.61" cy="441.94" r="3.3"/><circle cx="154.5" cy="443.92" r="3.3"/><circle cx="157.39" cy="445.9" r="3.3"/><circle cx="166" cy="451" r="3.3"/><circle cx="173" cy="455" r="3.3"/><circle cx="180" cy="458" r="3.3"/><circle cx="186" cy="460.5" r="3.3"/><circle cx="192" cy="463" r="3.3"/><circle cx="198.4" cy="466" r="3.3"/></g>
<g fill="none" stroke="#6b88e0" stroke-width="3"><circle cx="60" cy="395" r="3.3"/><circle cx="61.76" cy="399.68" r="3.3"/><circle cx="64.43" cy="403.29" r="3.3"/><circle cx="69.35" cy="403.84" r="3.3"/><circle cx="74.31" cy="403.26" r="3.3"/><circle cx="79.28" cy="402.67" r="3.3"/><circle cx="84.24" cy="402.09" r="3.3"/><circle cx="89.21" cy="402.51" r="3.3"/><circle cx="94.17" cy="403.1" r="3.3"/><circle cx="99.14" cy="403.7" r="3.3"/><circle cx="104.1" cy="404.29" r="3.3"/><circle cx="109.07" cy="404.89" r="3.3"/><circle cx="113.27" cy="407.4" r="3.3"/><circle cx="117.31" cy="410.36" r="3.3"/><circle cx="121.34" cy="413.31" r="3.3"/><circle cx="125.39" cy="416.24" r="3.3"/><circle cx="129.68" cy="418.81" r="3.3"/><circle cx="133.97" cy="421.38" r="3.3"/><circle cx="138.26" cy="423.95" r="3.3"/><circle cx="142.49" cy="426.62" r="3.3"/><circle cx="146.68" cy="429.34" r="3.3"/><circle cx="150.87" cy="432.07" r="3.3"/><circle cx="155.06" cy="434.79" r="3.3"/><circle cx="159.26" cy="437.52" r="3.3"/></g>
<g fill="none" stroke="#a6d2e0" stroke-width="3"><circle cx="56" cy="300" r="3.3"/><circle cx="56.14" cy="305" r="3.3"/><circle cx="56.29" cy="310" r="3.3"/><circle cx="56.43" cy="314.99" r="3.3"/><circle cx="56.57" cy="319.99" r="3.3"/><circle cx="56.71" cy="324.99" r="3.3"/><circle cx="56.86" cy="329.99" r="3.3"/><circle cx="57" cy="334.99" r="3.3"/><circle cx="57.14" cy="339.98" r="3.3"/><circle cx="57.29" cy="344.98" r="3.3"/><circle cx="57.43" cy="349.98" r="3.3"/><circle cx="57.57" cy="354.98" r="3.3"/><circle cx="57.71" cy="359.98" r="3.3"/><circle cx="57.86" cy="364.97" r="3.3"/><circle cx="58" cy="369.97" r="3.3"/><circle cx="58.37" cy="374.96" r="3.3"/><circle cx="58.75" cy="379.94" r="3.3"/><circle cx="59.12" cy="384.93" r="3.3"/><circle cx="59.49" cy="389.92" r="3.3"/><circle cx="59.87" cy="394.9" r="3.3"/><circle cx="60.24" cy="399.89" r="3.3"/><circle cx="60.62" cy="404.87" r="3.3"/><circle cx="60.99" cy="409.86" r="3.3"/><circle cx="61.8" cy="414.79" r="3.3"/><circle cx="62.62" cy="419.72" r="3.3"/><circle cx="63.44" cy="424.66" r="3.3"/><circle cx="64.97" cy="429.29" r="3.3"/><circle cx="67.97" cy="433.29" r="3.3"/><circle cx="71.38" cy="435.17" r="3.3"/><circle cx="75.67" cy="432.6" r="3.3"/><circle cx="79.96" cy="430.03" r="3.3"/><circle cx="84.51" cy="427.97" r="3.3"/><circle cx="89.07" cy="425.92" r="3.3"/><circle cx="93.63" cy="423.87" r="3.3"/><circle cx="98.19" cy="421.81" r="3.3"/><circle cx="102.99" cy="420.6" r="3.3"/><circle cx="107.95" cy="419.93" r="3.3"/><circle cx="112.9" cy="419.26" r="3.3"/><circle cx="117.86" cy="418.6" r="3.3"/><circle cx="122.79" cy="418.17" r="3.3"/><circle cx="127.52" cy="419.77" r="3.3"/><circle cx="132.26" cy="421.38" r="3.3"/><circle cx="136.99" cy="422.98" r="3.3"/><circle cx="141.66" cy="424.77" r="3.3"/><circle cx="146.19" cy="426.89" r="3.3"/><circle cx="150.72" cy="429" r="3.3"/><circle cx="155.25" cy="431.11" r="3.3"/><circle cx="166" cy="436" r="3.3"/><circle cx="173" cy="439" r="3.3"/><circle cx="180" cy="441" r="3.3"/><circle cx="186" cy="443" r="3.3"/><circle cx="192" cy="444.5" r="3.3"/><circle cx="198.4" cy="446.3" r="3.3"/></g>
<g fill="none" stroke="#a6d2e0" stroke-width="3"><circle cx="59" cy="380" r="3.3"/><circle cx="59.37" cy="384.99" r="3.3"/><circle cx="59.75" cy="389.97" r="3.3"/><circle cx="60.12" cy="394.96" r="3.3"/><circle cx="60.5" cy="399.94" r="3.3"/><circle cx="60.87" cy="404.93" r="3.3"/><circle cx="61.24" cy="409.92" r="3.3"/><circle cx="61.62" cy="414.9" r="3.3"/><circle cx="61.99" cy="419.89" r="3.3"/><circle cx="63.02" cy="424.78" r="3.3"/><circle cx="64.07" cy="429.67" r="3.3"/><circle cx="65.4" cy="434.4" r="3.3"/><circle cx="68.94" cy="437.94" r="3.3"/><circle cx="72.6" cy="440.7" r="3.3"/><circle cx="77.07" cy="438.46" r="3.3"/><circle cx="81.54" cy="436.23" r="3.3"/><circle cx="85.97" cy="433.91" r="3.3"/><circle cx="90.4" cy="431.58" r="3.3"/><circle cx="94.82" cy="429.25" r="3.3"/><circle cx="99.25" cy="426.92" r="3.3"/><circle cx="103.99" cy="425.59" r="3.3"/><circle cx="108.95" cy="424.92" r="3.3"/><circle cx="113.9" cy="424.24" r="3.3"/><circle cx="118.85" cy="423.57" r="3.3"/><circle cx="123.77" cy="423.27" r="3.3"/><circle cx="128.48" cy="424.94" r="3.3"/><circle cx="133.2" cy="426.6" r="3.3"/><circle cx="137.91" cy="428.26" r="3.3"/><circle cx="142.54" cy="430.14" r="3.3"/><circle cx="147.1" cy="432.2" r="3.3"/><circle cx="151.66" cy="434.25" r="3.3"/><circle cx="156.22" cy="436.3" r="3.3"/><circle cx="166" cy="441" r="3.3"/><circle cx="173" cy="444" r="3.3"/><circle cx="180" cy="446.5" r="3.3"/><circle cx="186" cy="448.5" r="3.3"/><circle cx="192" cy="450.5" r="3.3"/><circle cx="198.4" cy="452.4" r="3.3"/></g>
<g fill="none" stroke="#c4e2e8" stroke-width="3"><circle cx="57" cy="360" r="3.3"/><circle cx="57.3" cy="364.99" r="3.3"/><circle cx="57.6" cy="369.98" r="3.3"/><circle cx="57.9" cy="374.97" r="3.3"/><circle cx="58.2" cy="379.96" r="3.3"/><circle cx="58.5" cy="384.96" r="3.3"/><circle cx="58.8" cy="389.95" r="3.3"/><circle cx="59.1" cy="394.94" r="3.3"/><circle cx="59.4" cy="399.93" r="3.3"/><circle cx="59.7" cy="404.92" r="3.3"/><circle cx="59.99" cy="409.91" r="3.3"/><circle cx="60.59" cy="414.88" r="3.3"/><circle cx="61.18" cy="419.84" r="3.3"/><circle cx="61.78" cy="424.8" r="3.3"/><circle cx="62.37" cy="429.77" r="3.3"/><circle cx="62.97" cy="434.73" r="3.3"/><circle cx="66.03" cy="438.63" r="3.3"/><circle cx="69.46" cy="442.25" r="3.3"/><circle cx="73.25" cy="445.5" r="3.3"/><circle cx="77.51" cy="446" r="3.3"/><circle cx="82.15" cy="444.14" r="3.3"/><circle cx="86.66" cy="442.01" r="3.3"/><circle cx="90.94" cy="439.43" r="3.3"/><circle cx="95.23" cy="436.86" r="3.3"/><circle cx="99.52" cy="434.29" r="3.3"/><circle cx="104.11" cy="432.32" r="3.3"/><circle cx="108.74" cy="430.43" r="3.3"/><circle cx="113.36" cy="428.53" r="3.3"/><circle cx="117.99" cy="426.64" r="3.3"/><circle cx="122.65" cy="424.85" r="3.3"/><circle cx="127.52" cy="423.7" r="3.3"/><circle cx="132.38" cy="422.56" r="3.3"/><circle cx="137.25" cy="421.41" r="3.3"/><circle cx="142.16" cy="421.51" r="3.3"/><circle cx="147.1" cy="422.3" r="3.3"/><circle cx="152.04" cy="423.09" r="3.3"/><circle cx="156.98" cy="423.88" r="3.3"/><circle cx="161.91" cy="424.67" r="3.3"/><circle cx="170" cy="428" r="3.3"/><circle cx="178" cy="431" r="3.3"/><circle cx="184.5" cy="433" r="3.3"/><circle cx="191.2" cy="435" r="3.3"/><circle cx="198.4" cy="437" r="3.3"/></g>
<g fill="none" stroke="#c4e2e8" stroke-width="3"><circle cx="58" cy="380" r="3.3"/><circle cx="58.44" cy="384.98" r="3.3"/><circle cx="58.89" cy="389.96" r="3.3"/><circle cx="59.33" cy="394.94" r="3.3"/><circle cx="59.77" cy="399.92" r="3.3"/><circle cx="60.21" cy="404.9" r="3.3"/><circle cx="60.66" cy="409.88" r="3.3"/><circle cx="61.1" cy="414.86" r="3.3"/><circle cx="61.54" cy="419.84" r="3.3"/><circle cx="61.98" cy="424.82" r="3.3"/><circle cx="63.05" cy="429.71" r="3.3"/><circle cx="64.13" cy="434.59" r="3.3"/><circle cx="65.22" cy="439.47" r="3.3"/><circle cx="66.9" cy="444.05" r="3.3"/><circle cx="70.15" cy="447.85" r="3.3"/><circle cx="73.8" cy="451.2" r="3.3"/><circle cx="77.96" cy="453.97" r="3.3"/><circle cx="82.55" cy="452.05" r="3.3"/><circle cx="86.82" cy="449.54" r="3.3"/><circle cx="90.73" cy="446.42" r="3.3"/><circle cx="94.63" cy="443.29" r="3.3"/><circle cx="99" cy="440.87" r="3.3"/><circle cx="103.41" cy="438.51" r="3.3"/><circle cx="107.82" cy="436.16" r="3.3"/><circle cx="112.39" cy="434.16" r="3.3"/><circle cx="117.11" cy="432.51" r="3.3"/><circle cx="121.83" cy="430.86" r="3.3"/><circle cx="126.55" cy="429.21" r="3.3"/><circle cx="131.34" cy="428.04" r="3.3"/><circle cx="136.34" cy="428.21" r="3.3"/><circle cx="141.33" cy="428.38" r="3.3"/><circle cx="146.33" cy="428.54" r="3.3"/><circle cx="151.33" cy="428.71" r="3.3"/><circle cx="156.33" cy="428.88" r="3.3"/></g>
<g fill="none" stroke="#cfe6ea" stroke-width="3"><circle cx="58" cy="350" r="3.3"/><circle cx="58.29" cy="354.99" r="3.3"/><circle cx="58.57" cy="359.98" r="3.3"/><circle cx="58.86" cy="364.98" r="3.3"/><circle cx="59.14" cy="369.97" r="3.3"/><circle cx="59.43" cy="374.96" r="3.3"/><circle cx="59.71" cy="379.95" r="3.3"/><circle cx="60" cy="384.94" r="3.3"/><circle cx="62.01" cy="389.52" r="3.3"/><circle cx="64.09" cy="394" r="3.3"/><circle cx="69.09" cy="394.23" r="3.3"/><circle cx="74.08" cy="394.46" r="3.3"/><circle cx="79.05" cy="394.99" r="3.3"/><circle cx="84.02" cy="395.58" r="3.3"/><circle cx="88.98" cy="396.18" r="3.3"/><circle cx="93.95" cy="396.77" r="3.3"/><circle cx="98.91" cy="397.37" r="3.3"/><circle cx="103.76" cy="398.56" r="3.3"/><circle cx="108.57" cy="399.93" r="3.3"/><circle cx="113.38" cy="401.29" r="3.3"/><circle cx="118.19" cy="402.65" r="3.3"/><circle cx="123" cy="404.02" r="3.3"/><circle cx="127.81" cy="405.38" r="3.3"/><circle cx="132.66" cy="406.59" r="3.3"/><circle cx="137.54" cy="407.68" r="3.3"/><circle cx="142.42" cy="408.76" r="3.3"/><circle cx="147.3" cy="409.84" r="3.3"/><circle cx="152.18" cy="410.93" r="3.3"/><circle cx="157.06" cy="412.02" r="3.3"/><circle cx="161.67" cy="413.95" r="3.3"/><circle cx="169.3" cy="417" r="3.3"/><circle cx="177.5" cy="420.8" r="3.3"/><circle cx="184.9" cy="423.8" r="3.3"/><circle cx="191.6" cy="427.5" r="3.3"/><circle cx="198.2" cy="429" r="3.3"/></g>
<g fill="none" stroke="#cfe6ea" stroke-width="3"><circle cx="59" cy="375" r="3.3"/><circle cx="59.74" cy="379.94" r="3.3"/><circle cx="60.48" cy="384.89" r="3.3"/><circle cx="61.23" cy="389.83" r="3.3"/><circle cx="61.97" cy="394.78" r="3.3"/><circle cx="64.98" cy="398.73" r="3.3"/><circle cx="69.37" cy="400.19" r="3.3"/><circle cx="74.36" cy="400.46" r="3.3"/><circle cx="79.34" cy="400.93" r="3.3"/><circle cx="84.31" cy="401.43" r="3.3"/><circle cx="89.29" cy="401.93" r="3.3"/><circle cx="94.26" cy="402.43" r="3.3"/><circle cx="99.24" cy="402.92" r="3.3"/><circle cx="104.09" cy="404.09" r="3.3"/><circle cx="108.92" cy="405.38" r="3.3"/><circle cx="113.75" cy="406.67" r="3.3"/><circle cx="118.59" cy="407.96" r="3.3"/><circle cx="123.42" cy="409.24" r="3.3"/><circle cx="128.25" cy="410.53" r="3.3"/><circle cx="133.08" cy="411.8" r="3.3"/><circle cx="137.92" cy="413.05" r="3.3"/><circle cx="142.76" cy="414.31" r="3.3"/><circle cx="147.6" cy="415.56" r="3.3"/><circle cx="152.44" cy="416.82" r="3.3"/><circle cx="157.26" cy="418.13" r="3.3"/><circle cx="161.73" cy="420.37" r="3.3"/><circle cx="169.3" cy="424" r="3.3"/><circle cx="177.5" cy="427" r="3.3"/><circle cx="184.9" cy="430" r="3.3"/><circle cx="191.6" cy="433" r="3.3"/><circle cx="198.2" cy="435.7" r="3.3"/></g>
<g fill="none" stroke="#dcedee" stroke-width="3"><circle cx="57" cy="330" r="3.3"/><circle cx="57.29" cy="334.99" r="3.3"/><circle cx="57.57" cy="339.98" r="3.3"/><circle cx="57.86" cy="344.98" r="3.3"/><circle cx="58.14" cy="349.97" r="3.3"/><circle cx="58.43" cy="354.96" r="3.3"/><circle cx="58.71" cy="359.95" r="3.3"/><circle cx="59" cy="364.94" r="3.3"/><circle cx="60.45" cy="369.72" r="3.3"/><circle cx="61.92" cy="374.5" r="3.3"/><circle cx="64.23" cy="378.53" r="3.3"/><circle cx="68.83" cy="380.5" r="3.3"/><circle cx="73.73" cy="381.06" r="3.3"/><circle cx="78.72" cy="381.15" r="3.3"/><circle cx="83.72" cy="381.23" r="3.3"/><circle cx="88.72" cy="381.31" r="3.3"/><circle cx="93.72" cy="381.4" r="3.3"/><circle cx="98.72" cy="381.48" r="3.3"/><circle cx="103.66" cy="382.16" r="3.3"/><circle cx="108.58" cy="383.05" r="3.3"/><circle cx="113.5" cy="383.93" r="3.3"/><circle cx="118.43" cy="384.82" r="3.3"/><circle cx="123.35" cy="385.7" r="3.3"/><circle cx="128.27" cy="386.59" r="3.3"/><circle cx="133.19" cy="387.47" r="3.3"/><circle cx="138.11" cy="388.36" r="3.3"/><circle cx="143.03" cy="389.25" r="3.3"/><circle cx="147.95" cy="390.13" r="3.3"/><circle cx="152.69" cy="391.64" r="3.3"/><circle cx="157.29" cy="393.59" r="3.3"/><circle cx="161.9" cy="395.53" r="3.3"/><circle cx="169.3" cy="400" r="3.3"/><circle cx="178.2" cy="403.8" r="3.3"/><circle cx="184" cy="405" r="3.3"/><circle cx="191.6" cy="407.5" r="3.3"/><circle cx="198.2" cy="409" r="3.3"/></g>
<g fill="none" stroke="#dcedee" stroke-width="3"><circle cx="57.5" cy="345" r="3.3"/><circle cx="57.92" cy="349.98" r="3.3"/><circle cx="58.33" cy="354.97" r="3.3"/><circle cx="58.75" cy="359.95" r="3.3"/><circle cx="59.16" cy="364.93" r="3.3"/><circle cx="59.58" cy="369.91" r="3.3"/><circle cx="59.99" cy="374.9" r="3.3"/><circle cx="61.99" cy="379.47" r="3.3"/><circle cx="64.05" cy="384.01" r="3.3"/><circle cx="68.87" cy="385.33" r="3.3"/><circle cx="73.69" cy="386.64" r="3.3"/><circle cx="78.64" cy="387.07" r="3.3"/><circle cx="83.64" cy="387.17" r="3.3"/><circle cx="88.64" cy="387.27" r="3.3"/><circle cx="93.64" cy="387.37" r="3.3"/><circle cx="98.64" cy="387.47" r="3.3"/><circle cx="103.57" cy="388.21" r="3.3"/><circle cx="108.47" cy="389.19" r="3.3"/><circle cx="113.38" cy="390.18" r="3.3"/><circle cx="118.28" cy="391.16" r="3.3"/><circle cx="123.18" cy="392.14" r="3.3"/><circle cx="128.08" cy="393.12" r="3.3"/><circle cx="132.99" cy="394.1" r="3.3"/><circle cx="137.89" cy="395.08" r="3.3"/><circle cx="142.79" cy="396.06" r="3.3"/><circle cx="147.7" cy="397.04" r="3.3"/><circle cx="152.44" cy="398.53" r="3.3"/><circle cx="157.05" cy="400.48" r="3.3"/><circle cx="161.65" cy="402.43" r="3.3"/></g>
<g fill="none" stroke="#dcedee" stroke-width="3"><circle cx="58.5" cy="345" r="3.3"/><circle cx="59" cy="349.98" r="3.3"/><circle cx="59.5" cy="354.95" r="3.3"/><circle cx="59.99" cy="359.93" r="3.3"/><circle cx="62.2" cy="364.41" r="3.3"/><circle cx="64.92" cy="368.34" r="3.3"/><circle cx="69.62" cy="370.04" r="3.3"/><circle cx="74.32" cy="371.75" r="3.3"/><circle cx="79.25" cy="372.43" r="3.3"/><circle cx="84.23" cy="372.92" r="3.3"/><circle cx="89.21" cy="373.42" r="3.3"/><circle cx="94.18" cy="373.92" r="3.3"/><circle cx="99.16" cy="374.42" r="3.3"/><circle cx="104.09" cy="375.23" r="3.3"/><circle cx="109.01" cy="376.11" r="3.3"/><circle cx="113.93" cy="376.99" r="3.3"/><circle cx="118.85" cy="377.87" r="3.3"/><circle cx="123.78" cy="378.75" r="3.3"/><circle cx="128.67" cy="379.74" r="3.3"/><circle cx="133.36" cy="381.45" r="3.3"/><circle cx="138.06" cy="383.16" r="3.3"/><circle cx="142.76" cy="384.87" r="3.3"/><circle cx="147.46" cy="386.58" r="3.3"/><circle cx="152.22" cy="388.1" r="3.3"/><circle cx="157.05" cy="389.4" r="3.3"/><circle cx="161.88" cy="390.7" r="3.3"/><circle cx="169.3" cy="394" r="3.3"/><circle cx="178.2" cy="398.5" r="3.3"/><circle cx="191.6" cy="403" r="3.3"/></g>
<g fill="none" stroke="#dcedee" stroke-width="3"><circle cx="55.5" cy="284" r="3.3"/><circle cx="56.06" cy="288.94" r="3.3"/><circle cx="56.17" cy="293.94" r="3.3"/><circle cx="56.27" cy="298.94" r="3.3"/><circle cx="56.37" cy="303.93" r="3.3"/><circle cx="56.48" cy="308.93" r="3.3"/><circle cx="56.66" cy="313.93" r="3.3"/><circle cx="56.86" cy="318.93" r="3.3"/><circle cx="57.06" cy="323.92" r="3.3"/><circle cx="57.26" cy="328.92" r="3.3"/><circle cx="57.46" cy="333.91" r="3.3"/><circle cx="57.84" cy="338.9" r="3.3"/><circle cx="58.28" cy="343.88" r="3.3"/><circle cx="58.72" cy="348.86" r="3.3"/><circle cx="59.53" cy="353.77" r="3.3"/><circle cx="60.97" cy="358.56" r="3.3"/><circle cx="63.19" cy="362.75" r="3.3"/><circle cx="67.43" cy="365.4" r="3.3"/><circle cx="71.93" cy="367.39" r="3.3"/><circle cx="76.84" cy="368.37" r="3.3"/><circle cx="81.77" cy="369.09" r="3.3"/><circle cx="86.77" cy="369.34" r="3.3"/><circle cx="91.76" cy="369.59" r="3.3"/><circle cx="96.75" cy="369.84" r="3.3"/><circle cx="101.74" cy="370.19" r="3.3"/><circle cx="106.71" cy="370.72" r="3.3"/><circle cx="111.68" cy="371.25" r="3.3"/><circle cx="116.57" cy="372.23" r="3.3"/><circle cx="121.37" cy="373.61" r="3.3"/><circle cx="126.18" cy="374.98" r="3.3"/><circle cx="130.92" cy="376.56" r="3.3"/><circle cx="135.62" cy="378.27" r="3.3"/><circle cx="140.32" cy="379.98" r="3.3"/><circle cx="145.02" cy="381.69" r="3.3"/><circle cx="149.72" cy="383.4" r="3.3"/><circle cx="154.49" cy="384.88" r="3.3"/><circle cx="159.27" cy="386.35" r="3.3"/><circle cx="169.3" cy="390.4" r="3.3"/><circle cx="178.2" cy="394.9" r="3.3"/><circle cx="183.4" cy="397" r="3.3"/><circle cx="191.6" cy="399.3" r="3.3"/><circle cx="198.2" cy="400" r="3.3"/></g>
<defs><linearGradient id="gC" x1="0" y1="1" x2="0" y2="0"><stop offset="0" stop-color="#e6f1f1"/><stop offset="0.1" stop-color="#c2e2e6"/><stop offset="0.2" stop-color="#95cade"/><stop offset="0.31" stop-color="#79aee0"/><stop offset="0.42" stop-color="#6f88e0"/><stop offset="0.5" stop-color="#7a6ad0"/><stop offset="0.58" stop-color="#7a4aa8"/><stop offset="0.69" stop-color="#6e2c8a"/><stop offset="0.8" stop-color="#5f1a6a"/><stop offset="0.9" stop-color="#4e1550"/><stop offset="1" stop-color="#3a1030"/></linearGradient></defs>
<rect x="241" y="292.5" width="11.4" height="185.7" fill="url(#gC)" stroke="#3a3a3a" stroke-width="1"/><g stroke="#3a3a3a" stroke-width="1"><line x1="241" y1="331.6" x2="243" y2="331.6"/><line x1="241" y1="390.25" x2="243" y2="390.25"/><line x1="241" y1="448.9" x2="243" y2="448.9"/></g>
<g fill="#262626" font-family='"Liberation Sans", sans-serif'>
<text x="53.6" y="512.3" font-size="16" text-anchor="middle">0</text>
<text x="121.93" y="512.3" font-size="16" text-anchor="middle">5000</text>
<text x="190.27" y="512.3" font-size="16" text-anchor="middle">10000</text>
<text x="258.6" y="512.3" font-size="16" text-anchor="middle">15000</text>
<text x="46.3" y="290.4" font-size="16" text-anchor="end">1</text>
<text x="46.3" y="358.8" font-size="16" text-anchor="end">0.9</text>
<text x="46.3" y="427.2" font-size="16" text-anchor="end">0.8</text>
<text x="46.3" y="495.6" font-size="16" text-anchor="end">0.7</text>
<text x="155.5" y="535.5" font-size="17.6" text-anchor="middle">Equivalent full cycles</text>
<text transform="translate(16.5 386.5) rotate(-90)" font-size="17.6" text-anchor="middle">Relative discharge capacity</text>
<text x="65.6" y="482" font-size="18" text-anchor="middle">c</text>
<text x="234" y="299.3" font-size="16" text-anchor="end">1</text>
<text x="234" y="338.4" font-size="16" text-anchor="end">0.8</text>
<text x="234" y="397.05" font-size="16" text-anchor="end">0.5</text>
<text x="234" y="455.7" font-size="16" text-anchor="end">0.2</text>
<text x="234" y="485.03" font-size="16" text-anchor="end">0.05</text>
<text transform="translate(204.6 352.4) rotate(-90)" font-size="16.3" text-anchor="middle">DOD</text>
</g>
<g stroke="#e2e2e2" stroke-width="1"><line x1="421.15" y1="283.6" x2="421.15" y2="488.8"/><line x1="499.8" y1="283.6" x2="499.8" y2="488.8"/><line x1="342.5" y1="352" x2="548.8" y2="352"/><line x1="342.5" y1="420.4" x2="548.8" y2="420.4"/></g>
<g stroke="#5a5a5a" stroke-width="1.1" fill="none"><rect x="342.5" y="283.6" width="206.3" height="205.2"/><line x1="421.15" y1="488.8" x2="421.15" y2="486.6"/><line x1="421.15" y1="283.6" x2="421.15" y2="285.8"/><line x1="499.8" y1="488.8" x2="499.8" y2="486.6"/><line x1="499.8" y1="283.6" x2="499.8" y2="285.8"/><line x1="342.5" y1="352" x2="344.7" y2="352"/><line x1="548.8" y1="352" x2="546.6" y2="352"/><line x1="342.5" y1="420.4" x2="344.7" y2="420.4"/><line x1="548.8" y1="420.4" x2="546.6" y2="420.4"/></g>
<polyline points="342.5,286 342,317.6 347.8,342.4 350,366.9 351.1,386.7 356.7,425.7 360,436" fill="none" stroke="#8080f8" stroke-width="2.5" stroke-dasharray="7 5"/>
<g fill="none" stroke="#8080f8" stroke-width="3"><circle cx="342.3" cy="291" r="3.3"/><circle cx="342" cy="317.6" r="3.3"/><circle cx="347.8" cy="342.4" r="3.3"/><circle cx="350" cy="366.9" r="3.3"/><circle cx="351.1" cy="384.5" r="3.3"/><circle cx="351.1" cy="388.9" r="3.3"/><circle cx="356.7" cy="423.5" r="3.3"/><circle cx="356.7" cy="427.9" r="3.3"/></g>
<g fill="none" stroke="#8080f8" stroke-width="3"><circle cx="359.5" cy="434" r="3.3"/><circle cx="362.39" cy="437.93" r="3.3"/><circle cx="366.27" cy="434.78" r="3.3"/><circle cx="370.16" cy="431.63" r="3.3"/><circle cx="374.18" cy="428.72" r="3.3"/><circle cx="378.88" cy="427.03" r="3.3"/><circle cx="383.59" cy="425.34" r="3.3"/><circle cx="388.3" cy="423.66" r="3.3"/><circle cx="393" cy="421.97" r="3.3"/><circle cx="397.78" cy="420.53" r="3.3"/><circle cx="402.66" cy="419.44" r="3.3"/><circle cx="407.54" cy="418.34" r="3.3"/><circle cx="412.42" cy="417.24" r="3.3"/><circle cx="417.34" cy="417.65" r="3.3"/><circle cx="422.27" cy="418.49" r="3.3"/><circle cx="427.2" cy="419.33" r="3.3"/><circle cx="432.13" cy="420.16" r="3.3"/><circle cx="437.05" cy="421" r="3.3"/><circle cx="441.91" cy="422.13" r="3.3"/><circle cx="446.67" cy="423.68" r="3.3"/><circle cx="451.42" cy="425.23" r="3.3"/><circle cx="456.17" cy="426.79" r="3.3"/><circle cx="460.92" cy="428.34" r="3.3"/><circle cx="465.68" cy="429.89" r="3.3"/><circle cx="475.6" cy="434.5" r="3.3"/><circle cx="484.5" cy="437.5" r="3.3"/><circle cx="492.7" cy="440" r="3.3"/><circle cx="500.8" cy="443" r="3.3"/><circle cx="509" cy="445.7" r="3.3"/></g>
<g fill="none" stroke="#8080f8" stroke-width="3"><circle cx="360.5" cy="444" r="3.3"/><circle cx="362.19" cy="448.7" r="3.3"/><circle cx="366.57" cy="450.94" r="3.3"/><circle cx="370.78" cy="448.38" r="3.3"/><circle cx="375.03" cy="445.74" r="3.3"/><circle cx="379.33" cy="443.19" r="3.3"/><circle cx="383.63" cy="440.64" r="3.3"/><circle cx="387.94" cy="438.1" r="3.3"/><circle cx="392.24" cy="435.55" r="3.3"/><circle cx="396.61" cy="433.16" r="3.3"/><circle cx="401.29" cy="431.39" r="3.3"/><circle cx="405.97" cy="429.63" r="3.3"/><circle cx="410.65" cy="427.87" r="3.3"/><circle cx="415.41" cy="427.23" r="3.3"/><circle cx="420.29" cy="428.31" r="3.3"/><circle cx="425.17" cy="429.4" r="3.3"/><circle cx="430.05" cy="430.49" r="3.3"/><circle cx="434.93" cy="431.57" r="3.3"/><circle cx="439.81" cy="432.66" r="3.3"/><circle cx="444.58" cy="434.16" r="3.3"/><circle cx="449.34" cy="435.68" r="3.3"/><circle cx="454.11" cy="437.2" r="3.3"/><circle cx="458.87" cy="438.72" r="3.3"/><circle cx="463.63" cy="440.24" r="3.3"/><circle cx="468.34" cy="441.93" r="3.3"/><circle cx="475.6" cy="440.5" r="3.3"/><circle cx="484.5" cy="444" r="3.3"/><circle cx="492.7" cy="447" r="3.3"/><circle cx="500.8" cy="450" r="3.3"/><circle cx="509" cy="452.4" r="3.3"/></g>
<g fill="none" stroke="#8080f8" stroke-width="3"><circle cx="361" cy="441" r="3.3"/><circle cx="365.29" cy="443.57" r="3.3"/><circle cx="369.13" cy="441.25" r="3.3"/><circle cx="372.89" cy="437.95" r="3.3"/><circle cx="377.31" cy="435.66" r="3.3"/><circle cx="381.83" cy="433.53" r="3.3"/><circle cx="386.36" cy="431.4" r="3.3"/><circle cx="390.88" cy="429.27" r="3.3"/><circle cx="395.4" cy="427.14" r="3.3"/><circle cx="400.16" cy="425.62" r="3.3"/><circle cx="404.94" cy="424.14" r="3.3"/><circle cx="409.72" cy="422.67" r="3.3"/><circle cx="414.52" cy="421.71" r="3.3"/><circle cx="419.41" cy="422.73" r="3.3"/><circle cx="424.31" cy="423.74" r="3.3"/><circle cx="429.21" cy="424.76" r="3.3"/><circle cx="434.1" cy="425.78" r="3.3"/><circle cx="439" cy="426.79" r="3.3"/><circle cx="443.78" cy="428.24" r="3.3"/><circle cx="448.53" cy="429.79" r="3.3"/><circle cx="453.28" cy="431.34" r="3.3"/><circle cx="458.04" cy="432.9" r="3.3"/><circle cx="462.79" cy="434.45" r="3.3"/><circle cx="467.51" cy="436.1" r="3.3"/><circle cx="475.6" cy="437.5" r="3.3"/><circle cx="484.5" cy="441" r="3.3"/><circle cx="492.7" cy="443.5" r="3.3"/><circle cx="500.8" cy="446.5" r="3.3"/><circle cx="509" cy="449" r="3.3"/></g>
<g fill="none" stroke="#ff00ff" stroke-width="3"><circle cx="340.5" cy="296.5" r="3.3"/><circle cx="341.82" cy="301.32" r="3.3"/><circle cx="342.38" cy="306.28" r="3.3"/><circle cx="343.22" cy="311.17" r="3.3"/><circle cx="344.79" cy="315.91" r="3.3"/><circle cx="345.97" cy="320.77" r="3.3"/><circle cx="347.17" cy="325.62" r="3.3"/><circle cx="348.77" cy="330.36" r="3.3"/><circle cx="350.36" cy="335.1" r="3.3"/><circle cx="352.3" cy="339.71" r="3.3"/><circle cx="354.27" cy="344.3" r="3.3"/><circle cx="356.69" cy="348.66" r="3.3"/><circle cx="359.38" cy="352.88" r="3.3"/><circle cx="362.08" cy="357.08" r="3.3"/><circle cx="365.46" cy="360.77" r="3.3"/><circle cx="368.84" cy="364.45" r="3.3"/><circle cx="372.79" cy="367.47" r="3.3"/><circle cx="376.97" cy="370.21" r="3.3"/><circle cx="381.14" cy="372.96" r="3.3"/><circle cx="385.34" cy="375.68" r="3.3"/><circle cx="389.78" cy="377.97" r="3.3"/><circle cx="394.22" cy="380.27" r="3.3"/><circle cx="398.66" cy="382.57" r="3.3"/><circle cx="403.35" cy="384.28" r="3.3"/><circle cx="408.09" cy="385.86" r="3.3"/><circle cx="412.84" cy="387.45" r="3.3"/><circle cx="417.58" cy="389.03" r="3.3"/><circle cx="422.32" cy="390.61" r="3.3"/><circle cx="427.07" cy="392.19" r="3.3"/><circle cx="431.81" cy="393.77" r="3.3"/><circle cx="436.55" cy="395.35" r="3.3"/><circle cx="441.3" cy="396.93" r="3.3"/><circle cx="446.05" cy="398.48" r="3.3"/><circle cx="450.81" cy="400.03" r="3.3"/><circle cx="455.56" cy="401.59" r="3.3"/><circle cx="460.31" cy="403.14" r="3.3"/><circle cx="465.06" cy="404.69" r="3.3"/><circle cx="475.6" cy="410" r="3.3"/><circle cx="484.5" cy="414" r="3.3"/><circle cx="492.7" cy="418" r="3.3"/><circle cx="500.8" cy="421" r="3.3"/><circle cx="509" cy="424.9" r="3.3"/></g>
<g fill="none" stroke="#ff00ff" stroke-width="3"><circle cx="350" cy="342" r="3.3"/><circle cx="352.24" cy="346.47" r="3.3"/><circle cx="354.47" cy="350.94" r="3.3"/><circle cx="357.19" cy="355.13" r="3.3"/><circle cx="360.06" cy="359.23" r="3.3"/><circle cx="363.17" cy="363.11" r="3.3"/><circle cx="366.78" cy="366.57" r="3.3"/><circle cx="370.4" cy="370.02" r="3.3"/><circle cx="374.19" cy="373.24" r="3.3"/><circle cx="378.44" cy="375.89" r="3.3"/><circle cx="382.68" cy="378.53" r="3.3"/><circle cx="386.93" cy="381.17" r="3.3"/><circle cx="391.17" cy="383.81" r="3.3"/><circle cx="395.42" cy="386.46" r="3.3"/><circle cx="399.68" cy="389.07" r="3.3"/><circle cx="404.33" cy="390.91" r="3.3"/><circle cx="408.98" cy="392.74" r="3.3"/><circle cx="413.63" cy="394.58" r="3.3"/><circle cx="418.28" cy="396.42" r="3.3"/><circle cx="422.93" cy="398.26" r="3.3"/><circle cx="427.58" cy="400.09" r="3.3"/><circle cx="432.23" cy="401.93" r="3.3"/><circle cx="436.88" cy="403.77" r="3.3"/><circle cx="441.59" cy="405.43" r="3.3"/><circle cx="446.41" cy="406.73" r="3.3"/><circle cx="451.24" cy="408.03" r="3.3"/><circle cx="456.07" cy="409.33" r="3.3"/><circle cx="460.9" cy="410.63" r="3.3"/><circle cx="465.73" cy="411.93" r="3.3"/><circle cx="475.6" cy="415" r="3.3"/><circle cx="484.5" cy="419.5" r="3.3"/><circle cx="492.7" cy="423" r="3.3"/><circle cx="500.8" cy="426" r="3.3"/><circle cx="509" cy="429.3" r="3.3"/></g>
<g fill="none" stroke="#ff00ff" stroke-width="3"><circle cx="347" cy="338" r="3.3"/><circle cx="348.21" cy="342.85" r="3.3"/><circle cx="349.43" cy="347.7" r="3.3"/><circle cx="351.07" cy="352.4" r="3.3"/><circle cx="353.1" cy="356.97" r="3.3"/><circle cx="355.89" cy="361.04" r="3.3"/><circle cx="359.28" cy="364.71" r="3.3"/><circle cx="362.84" cy="368.22" r="3.3"/><circle cx="366.65" cy="371.46" r="3.3"/><circle cx="370.46" cy="374.69" r="3.3"/><circle cx="374.27" cy="377.93" r="3.3"/><circle cx="378.16" cy="381.06" r="3.3"/><circle cx="382.35" cy="383.8" r="3.3"/><circle cx="386.53" cy="386.53" r="3.3"/><circle cx="390.72" cy="389.26" r="3.3"/><circle cx="394.9" cy="392" r="3.3"/><circle cx="399.09" cy="394.73" r="3.3"/><circle cx="403.62" cy="396.83" r="3.3"/><circle cx="408.19" cy="398.86" r="3.3"/><circle cx="412.76" cy="400.89" r="3.3"/><circle cx="417.33" cy="402.92" r="3.3"/><circle cx="421.9" cy="404.95" r="3.3"/><circle cx="426.47" cy="406.99" r="3.3"/><circle cx="431.04" cy="409.02" r="3.3"/><circle cx="435.6" cy="411.05" r="3.3"/><circle cx="440.19" cy="413.04" r="3.3"/><circle cx="445.06" cy="414.17" r="3.3"/><circle cx="449.93" cy="415.29" r="3.3"/><circle cx="454.8" cy="416.42" r="3.3"/><circle cx="459.67" cy="417.54" r="3.3"/><circle cx="464.55" cy="418.66" r="3.3"/><circle cx="475.6" cy="419.7" r="3.3"/><circle cx="484.5" cy="424.9" r="3.3"/><circle cx="492.7" cy="428" r="3.3"/><circle cx="500.8" cy="431" r="3.3"/><circle cx="509" cy="434.5" r="3.3"/></g>
<g fill="none" stroke="#00f5f5" stroke-width="1.2"><circle cx="340.5" cy="284" r="4.2"/><circle cx="342.5" cy="286" r="4.2"/><circle cx="344.5" cy="288.5" r="4.2"/><circle cx="346.5" cy="291" r="4.2"/></g>
<g fill="none" stroke="#00f5f5" stroke-width="3.5"><circle cx="340.5" cy="284" r="2.5"/><circle cx="342.5" cy="286" r="2.5"/><circle cx="344.5" cy="288.5" r="2.5"/><circle cx="346.5" cy="291" r="2.5"/></g>
<g fill="none" stroke="#00f5f5" stroke-width="3"><circle cx="348.2" cy="297" r="3.3"/><circle cx="349.55" cy="301.81" r="3.3"/><circle cx="350.9" cy="306.63" r="3.3"/><circle cx="352.22" cy="311.45" r="3.3"/><circle cx="354.72" cy="315.67" r="3.3"/><circle cx="357.96" cy="319.47" r="3.3"/><circle cx="361.45" cy="323.05" r="3.3"/><circle cx="364.95" cy="326.62" r="3.3"/><circle cx="368.89" cy="329.66" r="3.3"/><circle cx="373.08" cy="332.38" r="3.3"/><circle cx="377.37" cy="334.95" r="3.3"/><circle cx="381.67" cy="337.51" r="3.3"/><circle cx="385.94" cy="340.11" r="3.3"/><circle cx="390.12" cy="342.85" r="3.3"/><circle cx="394.3" cy="345.59" r="3.3"/><circle cx="398.48" cy="348.33" r="3.3"/><circle cx="402.76" cy="350.91" r="3.3"/><circle cx="407.08" cy="353.44" r="3.3"/><circle cx="411.39" cy="355.97" r="3.3"/><circle cx="415.7" cy="358.5" r="3.3"/><circle cx="420.01" cy="361.04" r="3.3"/><circle cx="424.33" cy="363.57" r="3.3"/><circle cx="428.64" cy="366.1" r="3.3"/><circle cx="432.95" cy="368.63" r="3.3"/><circle cx="437.28" cy="371.13" r="3.3"/><circle cx="441.84" cy="373.17" r="3.3"/><circle cx="446.41" cy="375.22" r="3.3"/><circle cx="450.97" cy="377.26" r="3.3"/><circle cx="455.53" cy="379.31" r="3.3"/><circle cx="460.09" cy="381.35" r="3.3"/><circle cx="464.66" cy="383.4" r="3.3"/><circle cx="475.6" cy="390" r="3.3"/><circle cx="484.5" cy="393" r="3.3"/><circle cx="492.7" cy="396" r="3.3"/><circle cx="500.8" cy="398.2" r="3.3"/><circle cx="509" cy="401.9" r="3.3"/></g>
<g fill="none" stroke="#00f5f5" stroke-width="3"><circle cx="356" cy="324" r="3.3"/><circle cx="359.57" cy="327.5" r="3.3"/><circle cx="363.24" cy="330.89" r="3.3"/><circle cx="367.05" cy="334.13" r="3.3"/><circle cx="370.86" cy="337.37" r="3.3"/><circle cx="374.88" cy="340.33" r="3.3"/><circle cx="378.96" cy="343.22" r="3.3"/><circle cx="383.04" cy="346.11" r="3.3"/><circle cx="387.21" cy="348.87" r="3.3"/><circle cx="391.46" cy="351.51" r="3.3"/><circle cx="395.71" cy="354.15" r="3.3"/><circle cx="399.96" cy="356.77" r="3.3"/><circle cx="404.27" cy="359.3" r="3.3"/><circle cx="408.59" cy="361.83" r="3.3"/><circle cx="412.9" cy="364.36" r="3.3"/><circle cx="417.21" cy="366.89" r="3.3"/><circle cx="421.52" cy="369.42" r="3.3"/><circle cx="425.84" cy="371.95" r="3.3"/><circle cx="430.15" cy="374.48" r="3.3"/><circle cx="434.46" cy="377.01" r="3.3"/><circle cx="438.91" cy="379.26" r="3.3"/><circle cx="443.56" cy="381.1" r="3.3"/><circle cx="448.21" cy="382.94" r="3.3"/><circle cx="452.86" cy="384.79" r="3.3"/><circle cx="457.5" cy="386.63" r="3.3"/><circle cx="462.15" cy="388.47" r="3.3"/><circle cx="466.8" cy="390.32" r="3.3"/><circle cx="475.6" cy="397.4" r="3.3"/><circle cx="484.5" cy="398.2" r="3.3"/><circle cx="492.7" cy="403.4" r="3.3"/><circle cx="500.8" cy="406.4" r="3.3"/><circle cx="509" cy="410" r="3.3"/></g>
<defs><linearGradient id="gD" x1="0" y1="1" x2="0" y2="0"><stop offset="0" stop-color="#00ffff"/><stop offset="1" stop-color="#ff00ff"/></linearGradient></defs>
<rect x="531.3" y="294.8" width="12.5" height="174.1" fill="url(#gD)" stroke="#3a3a3a" stroke-width="1"/><g stroke="#3a3a3a" stroke-width="1"><line x1="531.3" y1="381.85" x2="533.3" y2="381.85"/></g>
<g fill="#262626" font-family='"Liberation Sans", sans-serif'>
<text x="342.5" y="512.5" font-size="16" text-anchor="middle">0</text>
<text x="421.15" y="512.5" font-size="16" text-anchor="middle">5000</text>
<text x="499.8" y="512.5" font-size="16" text-anchor="middle">10000</text>
<text x="335.5" y="290.4" font-size="16" text-anchor="end">1</text>
<text x="335.5" y="358.8" font-size="16" text-anchor="end">0.9</text>
<text x="335.5" y="427.2" font-size="16" text-anchor="end">0.8</text>
<text x="335.5" y="495.6" font-size="16" text-anchor="end">0.7</text>
<text x="445" y="535.5" font-size="17.6" text-anchor="middle">Equivalent full cycles</text>
<text transform="translate(305.5 386.5) rotate(-90)" font-size="17.6" text-anchor="middle">Relative discharge capacity</text>
<text x="356.2" y="481.5" font-size="18" text-anchor="middle">d</text>
<text x="524.4" y="302" font-size="16" text-anchor="end">0.75</text>
<text x="524.4" y="389.05" font-size="16" text-anchor="end">0.5</text>
<text x="524.4" y="476.1" font-size="16" text-anchor="end">0.25</text>
<text transform="translate(498 341.3) rotate(-90)" font-size="16.3" text-anchor="middle">SOC</text>
</g>
</svg></body></html>
